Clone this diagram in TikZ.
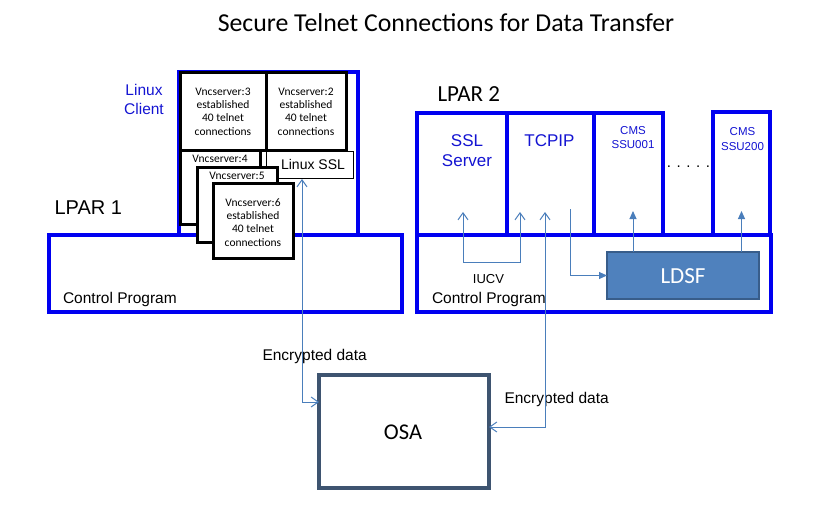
\documentclass[tikz,border=0pt]{standalone}
\usepackage{fontspec}
\setmainfont{Liberation Sans}
\newfontfamily\calib{Carlito}
\usetikzlibrary{arrows.meta}
\definecolor{boxblue}{RGB}{0,0,240}
\definecolor{txtblue}{RGB}{20,20,210}
\definecolor{arrc}{RGB}{74,126,187}
\definecolor{ldsffill}{RGB}{79,129,189}
\definecolor{ldsfdraw}{RGB}{56,93,138}
\definecolor{osadraw}{RGB}{62,84,112}
\tikzset{ob/.tip={Straight Barb[length=7pt,width=10pt]}, fa/.tip={Triangle[length=8pt,width=7pt]}}
\begin{document}
\begin{tikzpicture}[x=1pt,y=-1pt,
  bbox/.style={draw=boxblue, line width=4pt, fill=white, anchor=north west, inner sep=0pt, outer sep=0pt},
  vbox/.style={draw=black, line width=3pt, fill=white, anchor=north west, inner sep=0pt, outer sep=0pt, align=center, font=\fontsize{11.5}{13.3}\calib},
  vtxt/.style={anchor=base, font=\fontsize{11.5}{13.3}\calib},
  btxt/.style={anchor=base, text=txtblue, align=center},
  ptxt/.style={anchor=base west, font=\fontsize{15.5}{18}\selectfont},
  conn/.style={draw=arrc, line width=1pt}
]
\useasboundingbox (0,0) rectangle (822,511);

% title
\node[anchor=base, font=\fontsize{25.8}{30}\calib] (title) at (446,32) {Secure Telnet Connections for Data Transfer};

% ---------- LPAR 1 ----------
\node[bbox, minimum width=179pt, minimum height=163pt] (lc) at (179,72) {};
\node[bbox, minimum width=353pt, minimum height=77pt] (cp1) at (49,235) {};
\node[btxt, font=\fontsize{15.5}{19}\selectfont] (lctxt) at (144,114) {Linux\\Client};
\node[anchor=base west, font=\fontsize{20}{24}\selectfont] (lpar1) at (51,214) {LPAR 1};
\node[ptxt] (cp1txt) at (59.5,303.5) {Control Program};

\node[vbox, minimum width=86pt, minimum height=77pt] (vnc3) at (180,73) {Vncserver:3\\established\\40 telnet\\connections};
\node[vbox, minimum width=80pt, minimum height=77pt] (vnc2) at (266,73) {Vncserver:2\\established\\40 telnet\\connections};
\node[vbox, minimum width=80pt, minimum height=74pt] (vnc4) at (180,150) {};
\node[vtxt] (vnc4txt) at ([yshift=-12.3pt]vnc4.north) {Vncserver:4};
\node[draw=black, line width=0.8pt, fill=white, anchor=north west, inner sep=0pt, outer sep=0pt,
      minimum width=87pt, minimum height=27pt, font=\fontsize{14}{16}\selectfont] (lssl) at (266,151) {\hspace*{7pt}Linux SSL};
\node[vbox, minimum width=80pt, minimum height=75pt] (vnc5) at (197,167) {};
\node[vtxt] (vnc5txt) at ([yshift=-12.3pt]vnc5.north) {Vncserver:5};
\node[vbox, minimum width=80pt, minimum height=75pt] (vnc6) at (213,183) {\\[-2pt]Vncserver:6\\established\\40 telnet\\connections};

% ---------- LPAR 2 ----------
\node[bbox, minimum width=354pt, minimum height=77pt] (cp2) at (417,235) {};
\node[bbox, minimum width=90pt, minimum height=122pt] (sslsrv) at (417,113) {};
\node[bbox, minimum width=87pt, minimum height=122pt] (tcpip) at (507,113) {};
\node[bbox, minimum width=69pt, minimum height=122pt] (ssu1) at (594,113) {};
\node[bbox, minimum width=57pt, minimum height=123pt] (ssu200) at (713,112) {};
\node[anchor=base west, font=\fontsize{23}{26}\calib] (lpar2) at (434,101.7) {LPAR 2};
\node[btxt, font=\fontsize{17}{20.7}\selectfont] (ssltxt) at (467,166.7) {SSL\\Server};
\node[btxt, font=\fontsize{17}{20.7}\selectfont] (tcptxt) at (549.5,146) {TCPIP};
\node[btxt, font=\fontsize{11.5}{14.3}\selectfont] (ssu1txt) at (633,148.3) {CMS\\SSU001};
\node[btxt, font=\fontsize{11.5}{14.3}\selectfont] (ssu2txt) at (742.5,150) {CMS\\SSU200};
\node[anchor=base, font=\fontsize{15}{18}\selectfont] (dots) at (688.5,167) {. . . . .};
\node[anchor=base, font=\fontsize{13}{16}\selectfont] (iucv) at (488.5,283.3) {IUCV};
\node[ptxt] (cp2txt) at (428.5,303.5) {Control Program};
\node[draw=ldsfdraw, line width=2pt, fill=ldsffill, anchor=north west, inner sep=0pt, outer sep=0pt,
      minimum width=152pt, minimum height=47pt] (ldsf) at (607,252) {};
\node[anchor=base, text=white, font=\fontsize{23}{26}\calib] (ldsftxt) at (683,283.3) {LDSF};

% ---------- OSA ----------
\node[draw=osadraw, line width=3.5pt, fill=white, anchor=north west, inner sep=0pt, outer sep=0pt,
      minimum width=170pt, minimum height=113pt] (osa) at (319,375) {};
\node[anchor=base, font=\fontsize{22.5}{26}\calib] (osatxt) at (403,439.3) {OSA};
\node[ptxt] (enc1) at (259,360) {Encrypted data};
\node[ptxt] (enc2) at (501,403.5) {Encrypted data};

% ---------- connectors ----------
\coordinate (sslup) at ([xshift=36pt,yshift=-1pt]lssl.south west);
\coordinate (osain1) at ([yshift=-27pt]osa.north west);
\coordinate (tcpup) at ([xshift=38pt,yshift=23pt]tcpip.south west);
\coordinate (osain2) at ([yshift=-52pt]osa.north east);
\coordinate (iucvl) at ([xshift=46pt,yshift=23pt]sslsrv.south west);
\coordinate (iucvr) at ([xshift=13pt,yshift=23pt]tcpip.south west);
\coordinate (tcpout) at ([xshift=63pt,yshift=26pt]tcpip.south west);
\coordinate (ssu1in) at ([xshift=39pt,yshift=24pt]ssu1.south west);
\coordinate (ssu2in) at ([yshift=24pt]ssu200.south);

\draw[conn, ob-ob] (sslup) |- (osain1);
\draw[conn, ob-ob] (tcpup) |- (osain2);
\draw[conn, ob-ob] (iucvl) -- ++(0,50) -| (iucvr);
\draw[conn, -fa] (tcpout) |- (ldsf.west);
\draw[conn, -fa] (ldsf.north -| ssu1in) -- (ssu1in);
\draw[conn, -fa] (ldsf.north -| ssu2in) -- (ssu2in);
\end{tikzpicture}
\end{document}
